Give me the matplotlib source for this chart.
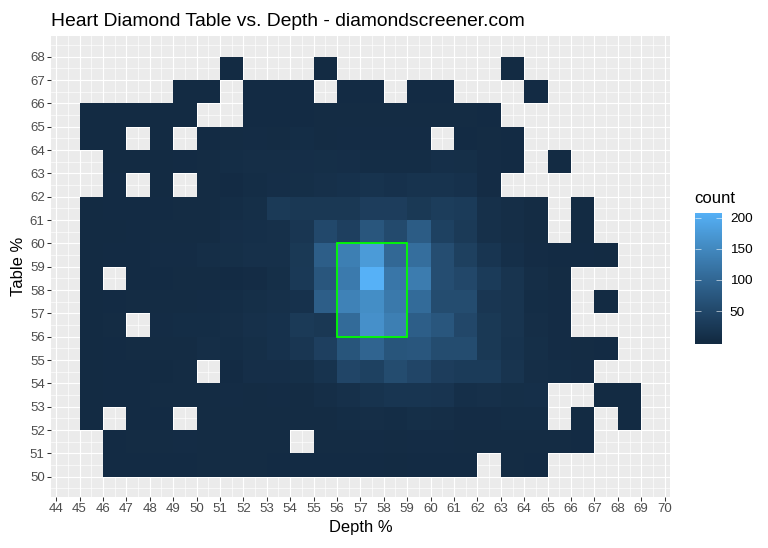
import numpy as np
import matplotlib
matplotlib.use("Agg")
import matplotlib.pyplot as plt
from matplotlib.colors import LinearSegmentedColormap, Normalize
from matplotlib.patches import Rectangle
from matplotlib.ticker import MultipleLocator

plt.rcParams['font.family'] = ['Liberation Sans', 'DejaVu Sans']

title = "Heart Diamond Table vs. Depth - diamondscreener.com"
x_label = "Depth %"
y_label = "Table %"
legend_title = "count"
x_ticks = list(range(44, 71))
y_ticks = list(range(50, 69))
legend_ticks = [50, 100, 150, 200]
depth_bins = list(range(45, 69))
n = None
# Rows: table % bin start; columns: depth % bins 45..68
t67 = [n,n,n,n,n,n,1,n,n,n,1,n,n,n,n,n,n,n,1,n,n,n,n,n]
t66 = [n,n,n,n,1,1,n,2,2,2,n,2,2,n,2,2,n,n,n,2,n,n,n,n]
t65 = [1,1,1,1,1,n,n,2,2,2,3,3,3,3,3,3,3,2,n,n,n,n,n,n]
t64 = [1,1,n,1,n,2,3,4,3,5,3,4,4,4,4,n,2,3,2,n,n,n,n,n]
t63 = [n,1,1,1,2,3,5,6,6,7,8,7,5,5,5,9,8,4,2,n,1,n,n,n]
t62 = [n,2,n,1,n,3,2,5,7,8,10,12,15,12,14,15,12,4,n,n,n,n,n,n]
t61 = [1,2,2,2,3,3,5,8,26,22,22,22,32,32,24,30,28,10,6,3,n,1,n,n]
t60 = [1,1,2,3,3,3,7,9,10,20,50,35,72,52,82,38,26,10,6,3,n,1,n,n]
t59 = [1,2,2,4,4,6,8,10,10,24,85,135,175,100,110,58,36,18,9,4,2,2,1,n]
t58 = [1,n,2,2,3,3,2,4,8,25,72,128,207,122,130,58,48,28,16,6,3,n,n,n]
t57 = [1,2,3,3,3,4,5,8,10,12,85,140,157,125,105,55,55,20,16,5,4,n,1,n]
t56 = [1,3,n,4,5,5,6,10,12,26,22,105,160,135,85,72,48,24,16,6,4,n,n,n]
t55 = [1,2,3,3,3,6,5,8,12,20,35,70,95,70,72,55,55,24,14,8,4,3,2,n]
t54 = [1,2,2,1,3,n,2,7,7,8,14,45,38,55,45,32,28,28,16,6,5,4,n,n]
t53 = [1,2,2,3,3,3,4,3,4,3,6,10,14,18,18,17,9,10,8,9,n,n,1,1]
t52 = [1,n,2,2,n,3,3,3,3,3,3,5,6,5,8,6,4,4,5,5,n,1,n,1]
t51 = [n,2,3,3,4,3,3,3,3,n,3,3,4,3,4,4,3,3,3,3,3,2,n,n]
t50 = [n,2,2,2,2,3,3,3,2,2,2,2,2,1,2,2,2,n,3,2,n,n,n,n]
table_rows = [t50,t51,t52,t53,t54,t55,t56,t57,t58,t59,t60,t61,t62,t63,t64,t65,t66,t67]
table_bins = list(range(50, 69))

counts = np.array(table_rows, dtype=float)
cmap = LinearSegmentedColormap.from_list(
    "gg", ["#132B43", "#234A6D", "#336A98", "#448DC5", "#56B1F7"])
cmap.set_bad((0, 0, 0, 0))
norm = Normalize(1, 207)

W, H = 768, 548
fig = plt.figure(figsize=(W/100, H/100), dpi=100, facecolor="white")
L, R, T, B = 51, 670, 36, 497
ax = fig.add_axes([L/W, 1-B/H, (R-L)/W, (B-T)/H], facecolor="#EBEBEB")
ax.set_xlim(43.78, 70.23)
ax.set_ylim(49.13, 68.89)
ax.set_xticks(x_ticks)
ax.set_yticks(y_ticks)
ax.xaxis.set_minor_locator(MultipleLocator(0.5))
ax.yaxis.set_minor_locator(MultipleLocator(0.5))
ax.grid(which="major", color="white", lw=0.85)
ax.grid(which="minor", color="white", lw=0.45)
ax.set_axisbelow(True)
ax.tick_params(which="minor", length=0)
ax.tick_params(which="major", length=3, width=0.75, color="#333333",
               labelcolor="#4D4D4D", labelsize=9.5, pad=1.5)
for s in ax.spines.values():
    s.set_visible(False)

ax.pcolormesh(depth_bins + [69], table_bins, np.ma.masked_invalid(counts),
              cmap=cmap, norm=norm, edgecolors="none", antialiased=False, zorder=2)
ax.add_patch(Rectangle((56, 56), 3, 4, fill=False, edgecolor="#00FF00", lw=1.3, zorder=3))

ax.set_xlabel(x_label, fontsize=11.9, color="black", labelpad=3.5)
ax.set_ylabel(y_label, fontsize=11.9, color="black", labelpad=2.5)
fig.text(L/W, 1-26/H, title, fontsize=13.85, color="black", ha="left", va="baseline")

cax = fig.add_axes([694.5/W, 1-344/H, 27/W, 131/H])
grad = np.linspace(207.5, -3, 300).reshape(-1, 1)
cax.imshow(grad, extent=[0, 1, -3, 207.5], aspect="auto", cmap=cmap, norm=norm)
cax.set_xticks([])
cax.set_yticks(legend_ticks)
cax.yaxis.tick_right()
cax.tick_params(axis="y", left=True, right=True, direction="in", length=4,
                width=0.4, color="white", labelcolor="black", labelsize=9.7, pad=6)
for s in cax.spines.values():
    s.set_visible(False)
fig.text(694.5/W, 1-203/H, legend_title, fontsize=12, color="black", ha="left", va="baseline")

fig.savefig("out.png", dpi=100)
